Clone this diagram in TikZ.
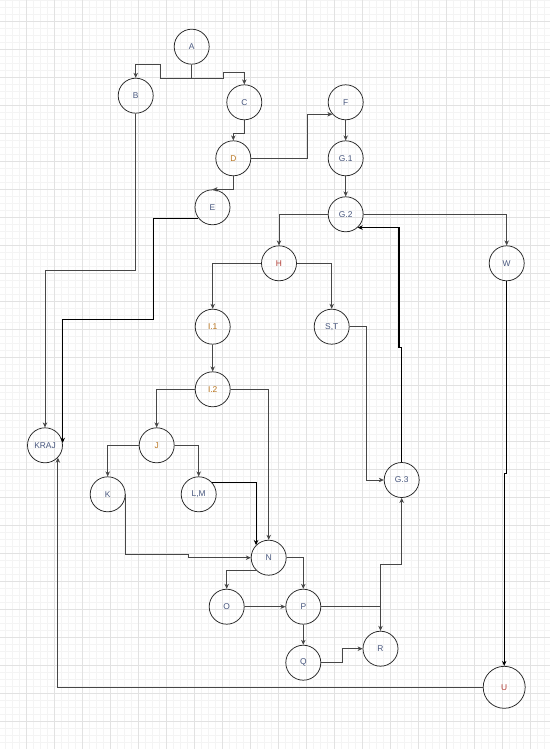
\documentclass[tikz,border=0pt]{standalone}
\usepackage{fontspec}
\setmainfont{Liberation Sans}
\usetikzlibrary{arrows.meta}

\definecolor{lblblue}{HTML}{46557C}
\definecolor{lblred}{HTML}{B03A32}
\definecolor{lblorange}{HTML}{B8741E}
\definecolor{gridmajor}{HTML}{E2E2E2}
\definecolor{gridminor}{HTML}{F4F4F4}

\tikzset{
    state/.style={circle, draw=black!85, line width=0.75pt, minimum size=35pt, inner sep=0pt,
        font=\fontsize{8.4}{10}\selectfont, text=lblblue},
    wire/.style={draw=black!72, line width=0.8pt, -{Stealth[length=5pt, width=4.5pt, inset=1.5pt]}},
    heavy/.style={wire, draw=black, line width=1.1pt},
}

\begin{document}
\begin{tikzpicture}[x=1pt, y=-1pt]
    \useasboundingbox (0,0) rectangle (550,749);
    % Grid
    \foreach \k in {0,...,77} \draw[gridminor, line width=0.6pt] ({5.7+7*\k},0) -- ({5.7+7*\k},749);
    \foreach \k in {0,...,106} \draw[gridminor, line width=0.6pt] (0,{0.7+7*\k}) -- (550,{0.7+7*\k});
    \foreach \k in {0,...,18} \draw[gridmajor, line width=0.7pt] ({26.7+28*\k},0) -- ({26.7+28*\k},749);
    \foreach \k in {0,...,25} \draw[gridmajor, line width=0.7pt] (0,{21.7+28*\k}) -- (550,{21.7+28*\k});

    % States
    \node (A) [state] at (191.7,46.7) {A};
    \node (B) [state] at (135.7,95.7) {B};
    \node (C) [state] at (244.3,102.3) {C};
    \node (D) [state, text=lblorange] at (233.3,158.3) {D};
    \node (E) [state] at (212.5,207.3) {E};
    \node (F) [state] at (345.7,102.3) {F};
    \node (G1) [state] at (345.7,158.3) {G.1};
    \node (G2) [state] at (345.7,214.3) {G.2};
    \node (H) [state, text=lblred] at (279,263.3) {H};
    \node (W) [state] at (506.7,263.3) {W};
    \node (I1) [state, text=lblorange] at (212.7,326.7) {I.1};
    \node (ST) [state] at (331.7,326.7) {S,T};
    \node (I2) [state, text=lblorange] at (212.7,389.3) {I.2};
    \node (KRAJ) [state] at (45,445.3) {KRAJ};
    \node (J) [state, text=lblorange] at (156.7,445.3) {J};
    \node (G3) [state] at (401.7,480) {G.3};
    \node (K) [state] at (107.7,494.3) {K};
    \node (LM) [state] at (198.7,494.3) {L,M};
    \node (N) [state] at (268.7,557.7) {N};
    \node (O) [state] at (226.7,606.7) {O};
    \node (P) [state] at (303.3,606.7) {P};
    \node (Q) [state] at (303.3,662.7) {Q};
    \node (R) [state] at (380.5,648.7) {R};
    \node (U) [state, minimum size=42pt, text=lblred] at (504.2,687.3) {U};

    % Upper part
    \draw[wire] (A.south) -- ++(0,14) -- ++(-31.4,0) -- ++(0,-14) -| (B.north);
    \draw[wire] (A.south) -- ++(0,14) -- ++(31.6,0) -- ++(0,-6.5) -| (C.north);
    \draw[wire] (C.south) -- ++(0,13.5) -| (D.north);
    \draw[wire] (D.south) |- (E.north);
    \draw[wire] (D.east) -- ++(56.5,0) |- (F.222);
    \draw[wire] (F) -- (G1);
    \draw[wire] (G1) -- (G2);
    \draw[wire] (G2.west) -| (H.north);
    \draw[wire] (G2.east) -| (W.north);
    \draw[heavy] (G3.north) -- ++(0,-114.8) -- ++(-2.7,0) |- (G2.312);
    % Middle part
    \draw[wire] (H.west) -| (I1.north);
    \draw[wire] (H.east) -| (ST.north);
    \draw[wire] (I1) -- (I2);
    \draw[wire] (ST.east) -- ++(17,0) |- (G3.west);
    \draw[wire] (I2.west) -| (J.north);
    \draw[wire] (I2.east) -| (N.north);
    \draw[wire] (J.west) -| (K.north);
    \draw[wire] (J.east) -| (LM.north);
    \draw[heavy] (LM.43) -| (N.135);
    \draw[wire] (K.east) -- ++(0,60) -- ++(63,0) |- (N.west);
    % Lower part
    \draw[wire] (N.225) -| (O.north);
    \draw[wire] (N.east) -| (P.north);
    \draw[wire] (O) -- (P);
    \draw[wire] (P) -- (Q);
    \draw[wire] (P.east) -| (R.north);
    \draw[wire] (P.east) -- ++(59.7,0) -- ++(0,-42.4) -| (G3.south);
    \draw[wire] (Q.east) -- ++(21,0) |- (R.west);
    \draw[heavy] (W.south) -- ++(0,192.5) -- ++(-2.5,0) -- (U.north);
    % Into KRAJ
    \draw[wire] (U.west) -| (KRAJ.316);
    \draw[wire] (B.south) -- ++(0,157.1) -| (KRAJ.north);
    \draw[heavy] (E.217) -- ++(-45,0) -- ++(0,101) -| (KRAJ.8);
\end{tikzpicture}
\end{document}
